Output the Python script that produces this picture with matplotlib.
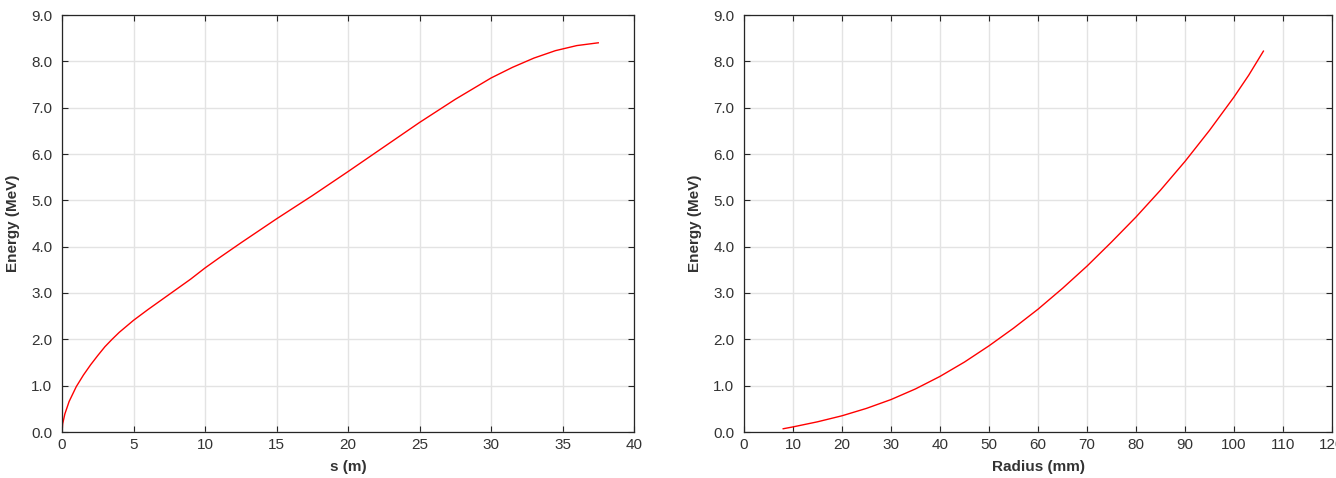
import numpy as np
import matplotlib.pyplot as plt

# energy vs path length (left)
s_m = [0, 0.05, 0.2, 0.5, 1.0, 1.5, 2.0, 2.5, 3.0, 3.5, 4.0, 5.0, 6.0, 7.0, 8.0, 9.0, 10.0,
       11.0, 12.5, 15.0, 17.5, 20.0, 22.5, 25.0, 27.5, 30.0, 31.5, 33.0, 34.5, 36.0, 37.5]
e_s = [0, 0.18, 0.39, 0.66, 0.98, 1.23, 1.45, 1.65, 1.84, 2.0, 2.15, 2.41, 2.64, 2.86, 3.08, 3.3, 3.54,
       3.76, 4.08, 4.6, 5.1, 5.62, 6.15, 6.68, 7.18, 7.64, 7.87, 8.07, 8.23, 8.34, 8.4]

# energy vs radius (right)
r_mm = [8, 10, 15, 20, 25, 30, 35, 40, 45, 50, 55, 60, 65, 70, 75, 80, 85, 90, 95, 100, 103, 106]
e_r = [0.07, 0.11, 0.22, 0.35, 0.51, 0.7, 0.93, 1.2, 1.51, 1.86, 2.24, 2.65, 3.1, 3.58, 4.1, 4.64,
       5.22, 5.84, 6.51, 7.23, 7.7, 8.22]

plt.rcParams['font.family'] = ['Liberation Sans', 'DejaVu Sans']
plt.rcParams['font.size'] = 11

fig = plt.figure(figsize=(13.36, 4.78), dpi=100)
ax1 = fig.add_axes([62/1336, 46/478, 572/1336, 417/478])
ax2 = fig.add_axes([744/1336, 46/478, 588/1336, 417/478])

axcol = '#262626'
for ax in (ax1, ax2):
    ax.set_ylim(0, 9)
    ax.set_yticks(np.arange(0, 9.5, 1))
    ax.set_yticklabels(['%.1f' % v for v in np.arange(0, 9.5, 1)])
    ax.grid(True, color='#e3e3e3', linewidth=1.0)
    ax.set_axisbelow(True)
    ax.tick_params(direction='in', top=True, right=True, length=4, colors=axcol,
                   labelcolor='#333333', width=0.8)
    ax.tick_params(axis='y', pad=7)
    ax.tick_params(axis='x', pad=4)
    for sp in ax.spines.values():
        sp.set_color(axcol)
        sp.set_linewidth(0.9)
    ax.set_ylabel('Energy (MeV)', fontweight='bold', color='#333333', labelpad=8)

ax1.plot(s_m, e_s, color='red', linewidth=1.0)
ax1.set_xlim(0, 40)
ax1.set_xticks(np.arange(0, 41, 5))
ax1.set_xlabel('s (m)', fontweight='bold', color='#333333', labelpad=6)

ax2.plot(r_mm, e_r, color='red', linewidth=1.0)
ax2.set_xlim(0, 120)
ax2.set_xticks(np.arange(0, 121, 10))
ax2.set_xlabel('Radius (mm)', fontweight='bold', color='#333333', labelpad=6)

fig.savefig('out.png', dpi=100)
